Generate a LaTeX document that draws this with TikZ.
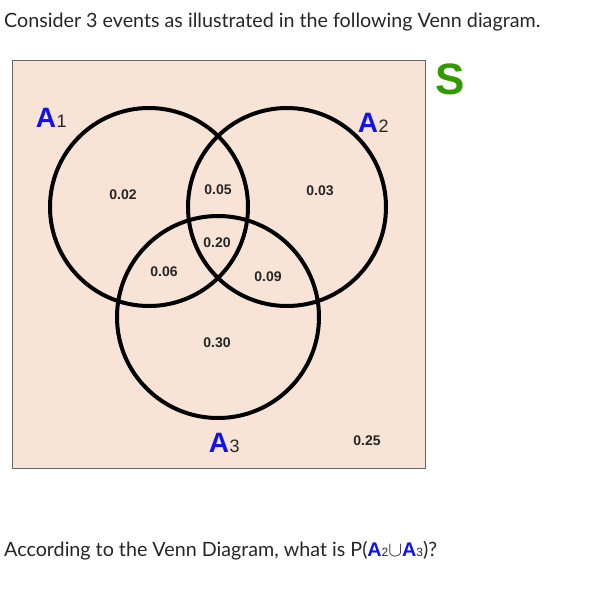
\documentclass[tikz,border=0pt]{standalone}
\usepackage{fontspec}
\setmainfont{Lato}
\newfontfamily\arial{Liberation Sans}
\definecolor{bg}{HTML}{F8E4D6}
\definecolor{lblue}{HTML}{1010F0}
\definecolor{sgreen}{HTML}{339900}
\begin{document}
\begin{tikzpicture}[x=1pt,y=-1pt,
  circ/.style={draw=black,line width=4pt},
  num/.style={font=\arial\bfseries\fontsize{14}{16}\selectfont,text=black!85},
  lab/.style={font=\arial\bfseries\fontsize{28}{30}\selectfont,text=lblue,inner sep=0pt}]
\useasboundingbox (0,0) rectangle (600,606);
\node[anchor=west,font=\fontsize{19.7}{22}\selectfont,text=black!85,inner sep=0pt] (title) at (4,22) {Consider 3 events as illustrated in the following Venn diagram.};
\draw[fill=bg,draw=black!60,line width=1pt] (12,60) rectangle (425,468);
\node (box) at (218,264) {};
\draw[circ] (149,207) circle (99);
\draw[circ] (287,207) circle (99);
\draw[circ] (218,317) circle (101);
\node[lab] (a1) at (46,118) {A\rlap{\kern0.5pt\normalfont\arial\fontsize{18}{20}\selectfont\color{black!85}1}};
\node[lab] (a2) at (368,123) {A\rlap{\kern0.5pt\normalfont\arial\fontsize{18}{20}\selectfont\color{black!85}2}};
\node[lab] (a3) at (219,443) {A\rlap{\kern0.5pt\normalfont\arial\fontsize{18}{20}\selectfont\color{black!85}3}};
\node[font=\arial\bfseries\fontsize{44}{46}\selectfont,text=sgreen] (s) at (450,79) {S};
\node[num] (n1) at (123,195) {0.02};
\node[num] (n2) at (218,190) {0.05};
\node[num] (n3) at (320,191) {0.03};
\node[num] (n4) at (217,243) {0.20};
\node[num] (n5) at (164,272) {0.06};
\node[num] (n6) at (268,277) {0.09};
\node[num] (n7) at (217,343) {0.30};
\node[num] (n8) at (367,441) {0.25};
\node[anchor=west,font=\fontsize{19.7}{22}\selectfont,text=black!85,inner sep=0pt] (q) at (4,551) {According to the Venn Diagram, what is P({\arial\bfseries\color{lblue}A}{\arial\fontsize{12}{14}\selectfont 2}$\cup${\arial\bfseries\color{lblue}A}{\arial\fontsize{12}{14}\selectfont 3})?};
\end{tikzpicture}
\end{document}
